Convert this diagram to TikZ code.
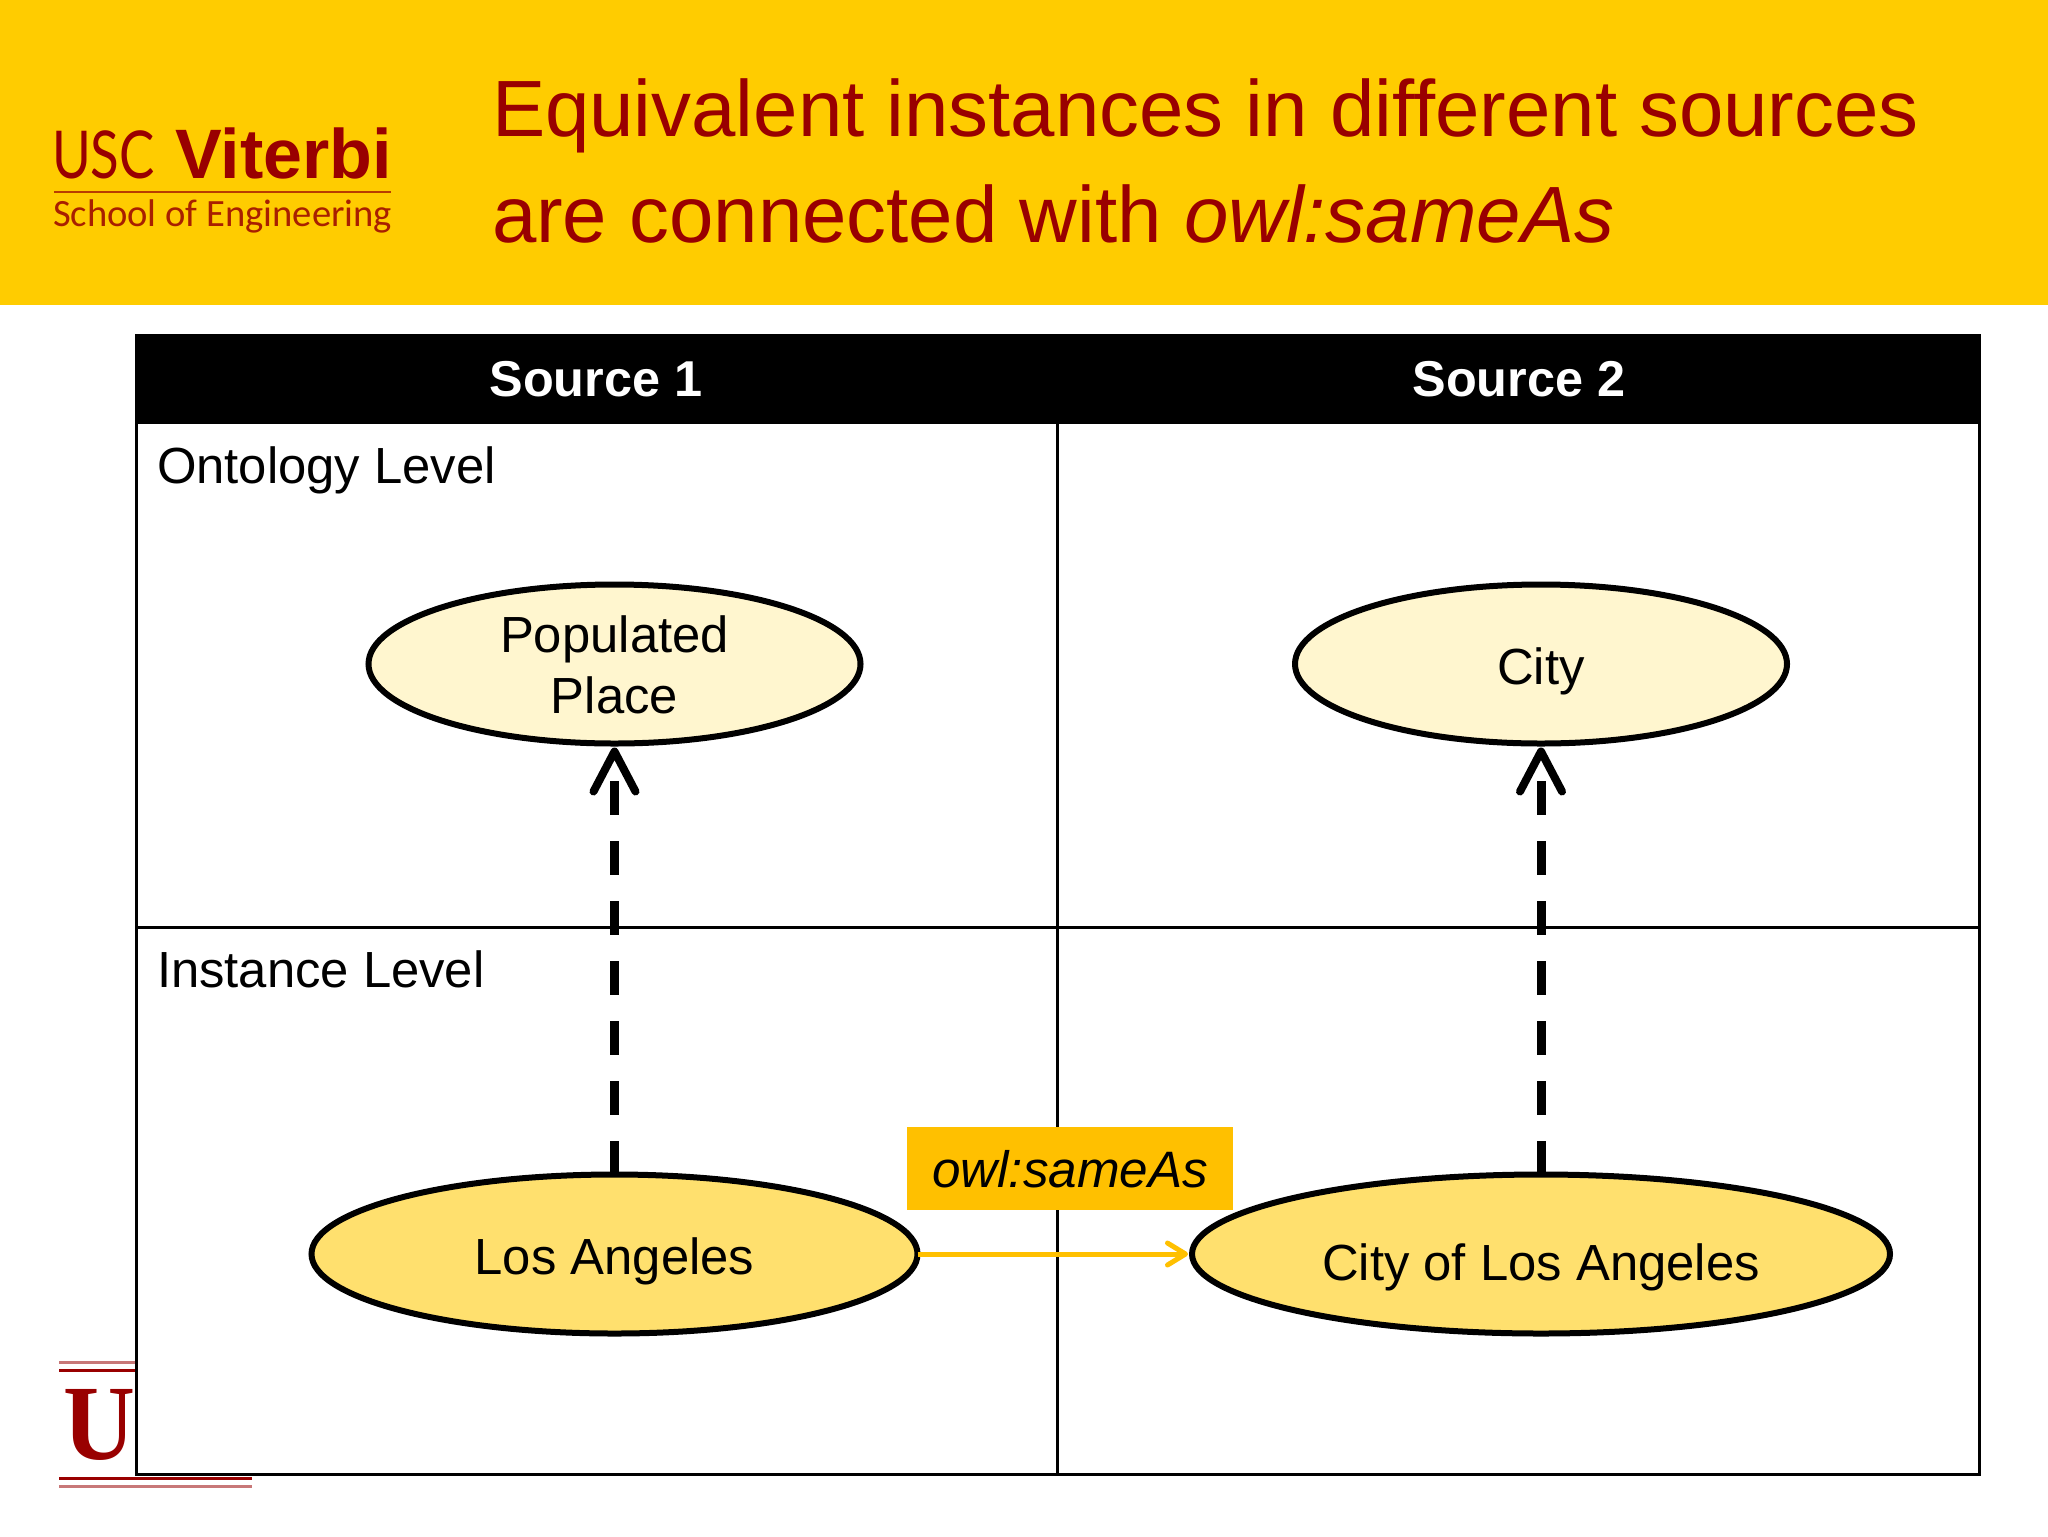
\documentclass[tikz,border=0pt]{standalone}
\usepackage{fontspec}
\setmainfont{Liberation Sans}
\newfontfamily\logofont{Carlito}
\newfontfamily\logolight[FakeStretch=0.8]{Lato}
\newfontfamily\serifbold[FakeStretch=0.93]{Liberation Serif}
\usetikzlibrary{shapes.geometric,arrows.meta}
\definecolor{uscgold}{HTML}{FFCC00}
\definecolor{uscred}{HTML}{990000}
\definecolor{labelgold}{HTML}{FFC000}
\definecolor{classfill}{HTML}{FFF6CF}
\definecolor{instfill}{HTML}{FFE06E}
\definecolor{lightred}{HTML}{C87878}
\newcommand{\fs}[1]{\fontsize{#1pt}{1.2\dimexpr#1pt\relax}\selectfont}
\newcommand{\low}[2]{\raisebox{-#1pt}[0pt][0pt]{#2}}
\tikzset{
  x=0.5pt,y=-0.5pt,
  txt/.style={inner sep=0pt,outer sep=0pt,font=\fs{25.4}},
  onto/.style={ellipse,draw=black,line width=3pt,inner sep=0pt,outer sep=0pt,align=center,font=\fs{25.4}},
  classnode/.style={onto,fill=classfill,minimum width=246pt,minimum height=79.5pt},
  instnode/.style={onto,fill=instfill,minimum height=79.5pt},
  typeedge/.style={draw=black,line width=4.5pt,
    dash pattern=on 17pt off 13pt on 17pt off 13pt on 17pt off 13pt on 17pt off 13pt on 17pt off 13pt on 17pt off 13pt on 17pt off 100pt,
    shorten >=2pt,
    -{Straight Barb[length=20pt,width=21pt,line width=4pt,round]}},
  sameedge/.style={draw=labelgold,line width=2.5pt,shorten >=2pt,
    -{Straight Barb[length=9pt,width=11pt,line width=2.5pt,round]}},
  grid/.style={draw=black,line width=1.5pt},
}
\begin{document}
\begin{tikzpicture}
\useasboundingbox (0,0) rectangle (2048,1536);
\fill[white] (0,0) rectangle (2048,1536);
\fill[uscgold] (0,0) rectangle (2048,305);
% top logo
\node[txt,anchor=base west,text=uscred] (logousc) at (52,178) {\logolight\fs{33}USC};
\node[txt,anchor=base east,text=uscred] (logovit) at (392,178) {\bfseries\fs{35}Viterbi};
\fill[uscred!70!uscgold] (54,191) rectangle (391,193);
\node[txt,anchor=base west,text=uscred!85!uscgold] (logosch) at (53,226) {\logofont\fs{19.3}School of Engineering};
% title
\node[txt,anchor=base west,text=uscred] (t1) at (492,136) {\fs{39.9}Equivalent instances in different sources};
\node[txt,anchor=base west,text=uscred] (t2) at (492,242) {\fs{39.9}are connected with \itshape owl:sameAs};
% bottom logo
\fill[lightred] (59,1360.5) rectangle (252,1363.5);
\fill[uscred] (59,1368.5) rectangle (252,1371.5);
\fill[uscred] (59,1476.5) rectangle (252,1479.5);
\fill[lightred] (59,1484.5) rectangle (252,1487.5);
\node[txt,anchor=base west,text=uscred] (logobot) at (63,1459) {\serifbold\bfseries\fs{53.5}USC};
% table
\fill[white] (136,424) rectangle (1979,1474.5);
\fill[black] (136,335.5) rectangle (1979,424);
\draw[grid] (136,335.5) rectangle (1979,1474.5);
\draw[grid] (1057.5,424) -- (1057.5,1474.5);
\draw[grid] (136,927) -- (1979,927);
\node[txt,anchor=center,text=white,font=\fs{25.2}\bfseries] (s1) at (596,379) {Source 1};
\node[txt,anchor=center,text=white,font=\fs{25.2}\bfseries] (s2) at (1519,379) {Source 2};
\node[txt,anchor=base west] (ol) at (157,483) {Ontology Level};
\node[txt,anchor=base west] (il) at (157,987) {Instance Level};
% nodes
\node[classnode] (pp) at (614.5,664) {\rule{0pt}{19.7pt}Populated\\Place};
\node[classnode] (city) at (1541,664) {\low{10}{City}};
\node[instnode,minimum width=303pt] (la) at (614.5,1254) {\low{10}{Los Angeles}};
\node[instnode,minimum width=349pt] (cola) at (1541,1254) {\low{13}{City of Los Angeles}};
% connectors
\draw[typeedge] (la.north) -- (pp.south);
\draw[typeedge] (cola.north) -- (city.south);
\draw[sameedge] (la.east) -- (cola.west);
\node[fill=labelgold,inner sep=0pt,outer sep=0pt,minimum width=163pt,minimum height=41.5pt,font=\fs{25.6}\itshape] (sa) at (1070,1168.5) {\low{9.25}{owl:sameAs}};
\end{tikzpicture}
\end{document}
